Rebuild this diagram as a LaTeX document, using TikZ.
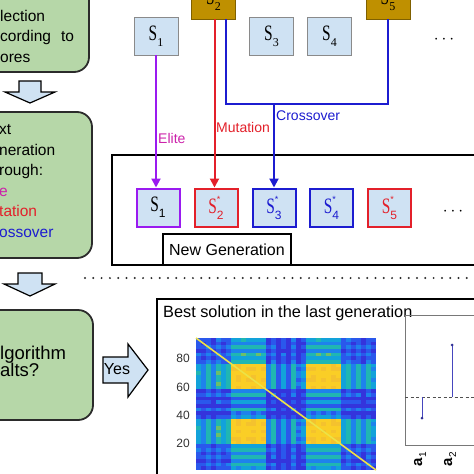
\documentclass[tikz,border=0pt]{standalone}
\usepackage{fontspec}
\setmainfont{Liberation Sans}
\newfontfamily\serifS{Liberation Serif}
\usetikzlibrary{arrows.meta}
\definecolor{gfill}{HTML}{B6D7A8}
\definecolor{gdraw}{HTML}{2B2B2B}
\definecolor{lblue}{HTML}{CFE2F3}
\definecolor{sgray}{HTML}{8A8A8A}
\definecolor{gold}{HTML}{BF9000}
\definecolor{golddk}{HTML}{7F6000}
\definecolor{cpurp}{HTML}{9A1AF0}
\definecolor{cmag}{HTML}{CC22AA}
\definecolor{cred}{HTML}{E3202A}
\definecolor{cblue}{HTML}{1C1CD0}
\definecolor{hm0}{HTML}{3434DC}
\definecolor{hm1}{HTML}{2A58EC}
\definecolor{hm2}{HTML}{1E82EC}
\definecolor{hm3}{HTML}{12A2DA}
\definecolor{hm4}{HTML}{20B6B2}
\definecolor{hm5}{HTML}{6CBF6A}
\definecolor{hm6}{HTML}{C8C23E}
\definecolor{hm7}{HTML}{F4C22E}
\definecolor{hm8}{HTML}{FACE26}
\newcommand\topS[1]{{\serifS\fontsize{22}{22}\selectfont\scalebox{0.7}[1]{S}}\raisebox{-6pt}{\serifS\fontsize{12}{12}\selectfont #1}}
\newcommand\botS[2]{{\serifS\fontsize{22}{22}\selectfont\scalebox{0.7}[1]{S}}\makebox[0pt][l]{\raisebox{11pt}{\fontsize{9}{9}\selectfont #2}}\raisebox{-6pt}{\fontsize{12}{12}\selectfont #1}}
\begin{document}
\begin{tikzpicture}[x=1pt,y=-1pt,
  gbox/.style={draw=gdraw,fill=gfill,line width=1.8pt,rounded corners=15pt},
  txt/.style={inner sep=0pt,font=\fontsize{15.5}{18}\selectfont},
  bigtxt/.style={inner sep=0pt,font=\fontsize{18.5}{20}\selectfont},
  lab/.style={inner sep=0pt,font=\fontsize{14}{16}\selectfont},
  sbox/.style={draw=sgray,fill=lblue,line width=0.8pt,minimum width=44pt,minimum height=38pt,inner sep=0pt},
  goldbox/.style={draw=golddk,fill=gold,line width=0.8pt,minimum width=44pt,minimum height=38pt,inner sep=0pt},
  nbox/.style={fill=lblue,line width=2pt,minimum width=43pt,minimum height=38pt,inner sep=0pt},
  blockarrow/.style={draw=black,fill=lblue,line width=1.2pt,line join=miter},
  conn/.style={line width=2pt,-{Triangle[width=9pt,length=9pt]}},
]
\clip (0,0) rectangle (474,474);
\fill[white] (0,0) rectangle (474,474);

% ---------- left flow ----------
\node[gbox,minimum width=109pt,minimum height=92pt] (b1) at (34.5,26) {};
\node[txt,anchor=base west] (b1a) at (0,21) {lection};
\node[txt,anchor=base west] (b1b) at (0,41) {cording\hspace{10pt}to};
\node[txt,anchor=base west] (b1c) at (0,62) {ores};

\path[blockarrow] (19,81) -- (41,81) -- (41,92) -- (55,92) -- (30,103) -- (5,92) -- (19,92) -- cycle;

\node[gbox,minimum width=112pt,minimum height=146pt] (b2) at (36,185) {};
\node[txt,anchor=base west] (b2a) at (-1,134.5) {xt};
\node[txt,anchor=base west] (b2b) at (-1,155) {neration};
\node[txt,anchor=base west] (b2c) at (-1,175.5) {rough:};
\node[txt,anchor=base west,text=cmag] (b2d) at (-1,196) {e};
\node[txt,anchor=base west,text=cred] (b2e) at (-1,216.5) {tation};
\node[txt,anchor=base west,text=cblue] (b2f) at (-1,237) {ossover};

\path[blockarrow] (18,273) -- (42,273) -- (42,284) -- (55,284) -- (30,296) -- (4,284) -- (18,284) -- cycle;

\node[gbox,minimum width=113pt,minimum height=110pt] (b3) at (36.5,365) {};
\node[bigtxt,anchor=base west] (b3a) at (0,359) {lgorithm};
\node[bigtxt,anchor=base west] (b3b) at (0,376) {alts?};

\path[blockarrow] (103,357) -- (128,357) -- (128,344) -- (148,370) -- (128,397) -- (128,383) -- (103,383) -- cycle;
\node[inner sep=0pt,font=\fontsize{16}{16}\selectfont] (yes) at (117,369) {Yes};

% ---------- top population ----------
\node[sbox] (t1) at (156,36) {\topS{1}};
\node[goldbox] (s2) at (213.5,0) {\topS{2}};
\node[sbox] (t3) at (271.5,36) {\topS{3}};
\node[sbox] (t4) at (329.5,36) {\topS{4}};
\node[goldbox] (s5) at (388,0) {\topS{5}};
\node[inner sep=0pt,font=\fontsize{16}{16}\selectfont] (tdots) at (444,40) {$\cdots$};

% ---------- new generation ----------
\draw[line width=2.6pt] (112,155) rectangle (490,265);
\node[nbox,draw=cpurp] (n1) at (158,207.5) {\botS{1}{}};
\node[nbox,draw=cred,text=cred] (n2) at (216,207.5) {\botS{2}{*}};
\node[nbox,draw=cblue,text=cblue] (n3) at (274,207.5) {\botS{3}{*}};
\node[nbox,draw=cblue,text=cblue] (n4) at (331.5,207.5) {\botS{4}{*}};
\node[nbox,draw=cred,text=cred] (n5) at (389.5,207.5) {\botS{5}{*}};
\node[inner sep=0pt,font=\fontsize{16}{16}\selectfont] (ndots) at (453,212) {$\cdots$};
\node[draw=black,line width=1.2pt,fill=white,minimum width=128pt,minimum height=31pt,inner sep=0pt,
      font=\fontsize{16}{16}\selectfont] (ng) at (227,249.5) {New Generation};

% ---------- connectors ----------
\coordinate (j) at (n3.north |- 0,104);
\draw[conn,draw=cpurp,fill=cpurp] (t1.south) -- (t1.south |- n1.north);
\draw[conn,draw=cred,fill=cred] ([xshift=1pt]s2.south) -- ([xshift=1pt]s2.south |- n2.north);
\draw[line width=2pt,cblue] ([xshift=12.5pt]s2.south) |- (s5.south |- j) -- (s5.south);
\draw[conn,draw=cblue,fill=cblue] (j) -- (j |- n3.north);
\node[lab,anchor=west,text=cmag] (le) at (158,138) {Elite};
\node[lab,anchor=west,text=cred] (lm) at (216,127) {Mutation};
\node[lab,anchor=west,text=cblue] (lc) at (276,116) {Crossover};

% ---------- dotted separator ----------
\coordinate (d1) at (85,278);
\coordinate (d2) at (480,278);
\draw[line width=2.2pt,line cap=round,dash pattern=on 0pt off 8.3pt,gdraw] (d1) -- (d2);

% ---------- result panel ----------
\draw[line width=2.6pt] (157,299) rectangle (490,490);
\node[inner sep=0pt,anchor=base west,font=\fontsize{16.3}{17}\selectfont] (title) at (163,317) {Best solution in the last generation};

\def\plist{{0.30,0.20,0.36,0.16,0.40,0.24,0.33,
0.95,0.88,0.97,0.93,0.89,0.96,0.91,
0.14,0.34,0.10,0.28,0.08,0.38,0.12,0.22,
0.94,0.89,0.97,0.91,0.96,0.88,0.94,
0.26,0.38,0.18,0.33,0.14,0.36,0.22}}
\foreach \i in {0,...,35}{
  \foreach \j in {0,...,35}{
    \pgfmathsetmacro\vv{\plist[\i]*\plist[\j]}
    \pgfmathtruncatemacro\cc{(\vv>=0.05)+(\vv>=0.11)+(\vv>=0.2)+(\vv>=0.29)+(\vv>=0.38)+(\vv>=0.55)+(\vv>=0.72)+(\vv>=0.84)}
    \fill[hm\cc] (196+\i*5,338+\j*3.6667) rectangle ++(5.1,3.75);
  }
}
\draw[line width=1.6pt,color={rgb,255:red,236;green,226;blue,70}] (196,338) -- (376,470);
\foreach \lbl/\yy in {80/358.5,60/387,40/415.5,20/443.5}{
  \node[inner sep=0pt,anchor=east,font=\fontsize{12}{12}\selectfont,text={rgb,255:red,50;green,50;blue,50}] at (190,\yy) {\lbl};
}

% stem plot
\draw[line width=0.9pt,color={rgb,255:red,120;green,120;blue,120}] (405,315) rectangle (490,445);
\draw[line width=0.8pt,color={rgb,255:red,80;green,80;blue,80},dash pattern=on 3pt off 2.5pt] (405,397) -- (474,397);
\draw[line width=1pt,color={rgb,255:red,70;green,70;blue,190}] (422,397) -- (422,418);
\fill[color={rgb,255:red,50;green,50;blue,150}] (422,418) circle (1.5);
\draw[line width=1pt,color={rgb,255:red,70;green,70;blue,190}] (452,397) -- (452,345);
\fill[color={rgb,255:red,50;green,50;blue,150}] (452,345) circle (1.5);
\node[rotate=90,anchor=east,inner sep=0pt,font=\fontsize{15}{15}\selectfont\bfseries] (a1) at (420,452) {a\raisebox{-4pt}{\fontsize{10}{10}\selectfont\mdseries 1}};
\node[rotate=90,anchor=east,inner sep=0pt,font=\fontsize{15}{15}\selectfont\bfseries] (a2) at (450,452) {a\raisebox{-4pt}{\fontsize{10}{10}\selectfont\mdseries 2}};
\end{tikzpicture}
\end{document}
